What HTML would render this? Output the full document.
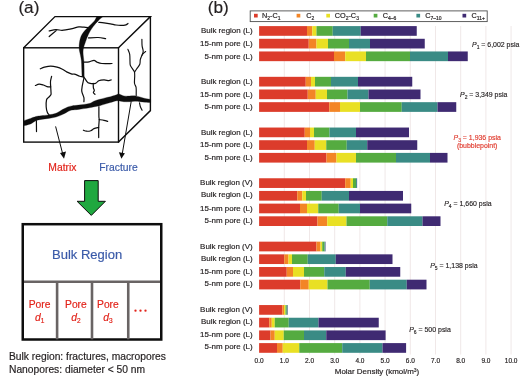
<!DOCTYPE html>
<html><head><meta charset="utf-8"><title>Figure</title>
<style>
html,body{margin:0;padding:0;background:#fff;}
body{width:520px;height:378px;overflow:hidden;}
svg{display:block;}
text{font-family:"Liberation Sans",sans-serif;fill:#231f20;stroke:#231f20;stroke-width:0.18px;}
.red{stroke:#e2231a;}.blue{stroke:#3b5ba9;}
.lab{font-size:7.95px;text-anchor:end;}
.tick{font-size:6.5px;text-anchor:middle;}
.leg{font-size:7.3px;}
.p{font-size:6.95px;stroke-width:0.15px;}
.pr{fill:#e0392c;stroke:#e0392c;}
.red{fill:#e2231a;}
.blue{fill:#3b5ba9;}
.it{font-style:italic;}
</style></head><body>
<svg width="520" height="378" viewBox="0 0 520 378">
<rect width="520" height="378" fill="#fff"/>

<g stroke="#eee5e5" stroke-width="0.9">
<line x1="284.30" y1="26" x2="284.30" y2="354.5"/>
<line x1="309.50" y1="26" x2="309.50" y2="354.5"/>
<line x1="334.70" y1="26" x2="334.70" y2="354.5"/>
<line x1="359.90" y1="26" x2="359.90" y2="354.5"/>
<line x1="385.10" y1="26" x2="385.10" y2="354.5"/>
<line x1="410.30" y1="26" x2="410.30" y2="354.5"/>
<line x1="435.50" y1="26" x2="435.50" y2="354.5"/>
<line x1="460.70" y1="26" x2="460.70" y2="354.5"/>
<line x1="485.90" y1="26" x2="485.90" y2="354.5"/>
<line x1="511.10" y1="26" x2="511.10" y2="354.5"/>
</g>
<g shape-rendering="auto">
<rect x="259.10" y="26.10" width="47.90" height="9.7" fill="#dc3c2b"/>
<rect x="307.00" y="26.10" width="5.25" height="9.7" fill="#f38526"/>
<rect x="312.25" y="26.10" width="4.25" height="9.7" fill="#e9e024"/>
<rect x="316.50" y="26.10" width="16.25" height="9.7" fill="#55ab40"/>
<rect x="332.75" y="26.10" width="28.00" height="9.7" fill="#3a8b85"/>
<rect x="360.75" y="26.10" width="56.00" height="9.7" fill="#3f2a72"/>
<rect x="259.10" y="38.78" width="49.65" height="9.7" fill="#dc3c2b"/>
<rect x="308.75" y="38.78" width="7.75" height="9.7" fill="#f38526"/>
<rect x="316.50" y="38.78" width="11.50" height="9.7" fill="#e9e024"/>
<rect x="328.00" y="38.78" width="21.00" height="9.7" fill="#55ab40"/>
<rect x="349.00" y="38.78" width="21.00" height="9.7" fill="#3a8b85"/>
<rect x="370.00" y="38.78" width="54.75" height="9.7" fill="#3f2a72"/>
<rect x="259.10" y="51.46" width="74.90" height="9.7" fill="#dc3c2b"/>
<rect x="334.00" y="51.46" width="11.25" height="9.7" fill="#f38526"/>
<rect x="345.25" y="51.46" width="20.75" height="9.7" fill="#e9e024"/>
<rect x="366.00" y="51.46" width="44.00" height="9.7" fill="#55ab40"/>
<rect x="410.00" y="51.46" width="38.00" height="9.7" fill="#3a8b85"/>
<rect x="448.00" y="51.46" width="19.75" height="9.7" fill="#3f2a72"/>
<rect x="259.10" y="76.82" width="46.65" height="9.7" fill="#dc3c2b"/>
<rect x="305.75" y="76.82" width="5.25" height="9.7" fill="#f38526"/>
<rect x="311.00" y="76.82" width="4.00" height="9.7" fill="#e9e024"/>
<rect x="315.00" y="76.82" width="16.00" height="9.7" fill="#55ab40"/>
<rect x="331.00" y="76.82" width="27.00" height="9.7" fill="#3a8b85"/>
<rect x="358.00" y="76.82" width="54.25" height="9.7" fill="#3f2a72"/>
<rect x="259.10" y="89.50" width="48.65" height="9.7" fill="#dc3c2b"/>
<rect x="307.75" y="89.50" width="8.00" height="9.7" fill="#f38526"/>
<rect x="315.75" y="89.50" width="11.25" height="9.7" fill="#e9e024"/>
<rect x="327.00" y="89.50" width="20.50" height="9.7" fill="#55ab40"/>
<rect x="347.50" y="89.50" width="21.00" height="9.7" fill="#3a8b85"/>
<rect x="368.50" y="89.50" width="52.00" height="9.7" fill="#3f2a72"/>
<rect x="259.10" y="102.18" width="70.15" height="9.7" fill="#dc3c2b"/>
<rect x="329.25" y="102.18" width="10.75" height="9.7" fill="#f38526"/>
<rect x="340.00" y="102.18" width="20.00" height="9.7" fill="#e9e024"/>
<rect x="360.00" y="102.18" width="41.75" height="9.7" fill="#55ab40"/>
<rect x="401.75" y="102.18" width="35.75" height="9.7" fill="#3a8b85"/>
<rect x="437.50" y="102.18" width="18.75" height="9.7" fill="#3f2a72"/>
<rect x="259.10" y="127.54" width="45.65" height="9.7" fill="#dc3c2b"/>
<rect x="304.75" y="127.54" width="5.25" height="9.7" fill="#f38526"/>
<rect x="310.00" y="127.54" width="4.00" height="9.7" fill="#e9e024"/>
<rect x="314.00" y="127.54" width="15.50" height="9.7" fill="#55ab40"/>
<rect x="329.50" y="127.54" width="26.50" height="9.7" fill="#3a8b85"/>
<rect x="356.00" y="127.54" width="53.00" height="9.7" fill="#3f2a72"/>
<rect x="259.10" y="140.22" width="47.90" height="9.7" fill="#dc3c2b"/>
<rect x="307.00" y="140.22" width="7.75" height="9.7" fill="#f38526"/>
<rect x="314.75" y="140.22" width="11.50" height="9.7" fill="#e9e024"/>
<rect x="326.25" y="140.22" width="20.50" height="9.7" fill="#55ab40"/>
<rect x="346.75" y="140.22" width="20.50" height="9.7" fill="#3a8b85"/>
<rect x="367.25" y="140.22" width="50.00" height="9.7" fill="#3f2a72"/>
<rect x="259.10" y="152.90" width="67.40" height="9.7" fill="#dc3c2b"/>
<rect x="326.50" y="152.90" width="10.00" height="9.7" fill="#f38526"/>
<rect x="336.50" y="152.90" width="19.50" height="9.7" fill="#e9e024"/>
<rect x="356.00" y="152.90" width="40.00" height="9.7" fill="#55ab40"/>
<rect x="396.00" y="152.90" width="34.00" height="9.7" fill="#3a8b85"/>
<rect x="430.00" y="152.90" width="17.50" height="9.7" fill="#3f2a72"/>
<rect x="259.10" y="178.26" width="86.10" height="9.7" fill="#dc3c2b"/>
<rect x="345.20" y="178.26" width="5.50" height="9.7" fill="#f38526"/>
<rect x="350.70" y="178.26" width="2.30" height="9.7" fill="#e9e024"/>
<rect x="353.00" y="178.26" width="3.00" height="9.7" fill="#55ab40"/>
<rect x="356.00" y="178.26" width="0.90" height="9.7" fill="#3a8b85"/>
<rect x="356.90" y="178.26" width="0.20" height="9.7" fill="#3f2a72"/>
<rect x="259.10" y="190.94" width="38.15" height="9.7" fill="#dc3c2b"/>
<rect x="297.25" y="190.94" width="5.00" height="9.7" fill="#f38526"/>
<rect x="302.25" y="190.94" width="3.75" height="9.7" fill="#e9e024"/>
<rect x="306.00" y="190.94" width="15.75" height="9.7" fill="#55ab40"/>
<rect x="321.75" y="190.94" width="27.25" height="9.7" fill="#3a8b85"/>
<rect x="349.00" y="190.94" width="54.00" height="9.7" fill="#3f2a72"/>
<rect x="259.10" y="203.62" width="40.90" height="9.7" fill="#dc3c2b"/>
<rect x="300.00" y="203.62" width="7.00" height="9.7" fill="#f38526"/>
<rect x="307.00" y="203.62" width="11.25" height="9.7" fill="#e9e024"/>
<rect x="318.25" y="203.62" width="20.50" height="9.7" fill="#55ab40"/>
<rect x="338.75" y="203.62" width="21.25" height="9.7" fill="#3a8b85"/>
<rect x="360.00" y="203.62" width="51.25" height="9.7" fill="#3f2a72"/>
<rect x="259.10" y="216.30" width="58.40" height="9.7" fill="#dc3c2b"/>
<rect x="317.50" y="216.30" width="9.75" height="9.7" fill="#f38526"/>
<rect x="327.25" y="216.30" width="19.25" height="9.7" fill="#e9e024"/>
<rect x="346.50" y="216.30" width="40.75" height="9.7" fill="#55ab40"/>
<rect x="387.25" y="216.30" width="35.25" height="9.7" fill="#3a8b85"/>
<rect x="422.50" y="216.30" width="18.00" height="9.7" fill="#3f2a72"/>
<rect x="259.10" y="241.66" width="57.40" height="9.7" fill="#dc3c2b"/>
<rect x="316.50" y="241.66" width="4.00" height="9.7" fill="#f38526"/>
<rect x="320.50" y="241.66" width="1.75" height="9.7" fill="#e9e024"/>
<rect x="322.25" y="241.66" width="2.25" height="9.7" fill="#55ab40"/>
<rect x="324.50" y="241.66" width="0.80" height="9.7" fill="#3a8b85"/>
<rect x="325.30" y="241.66" width="0.30" height="9.7" fill="#3f2a72"/>
<rect x="259.10" y="254.34" width="25.15" height="9.7" fill="#dc3c2b"/>
<rect x="284.25" y="254.34" width="4.25" height="9.7" fill="#f38526"/>
<rect x="288.50" y="254.34" width="3.50" height="9.7" fill="#e9e024"/>
<rect x="292.00" y="254.34" width="15.75" height="9.7" fill="#55ab40"/>
<rect x="307.75" y="254.34" width="28.00" height="9.7" fill="#3a8b85"/>
<rect x="335.75" y="254.34" width="56.75" height="9.7" fill="#3f2a72"/>
<rect x="259.10" y="267.02" width="27.65" height="9.7" fill="#dc3c2b"/>
<rect x="286.75" y="267.02" width="6.25" height="9.7" fill="#f38526"/>
<rect x="293.00" y="267.02" width="11.00" height="9.7" fill="#e9e024"/>
<rect x="304.00" y="267.02" width="20.25" height="9.7" fill="#55ab40"/>
<rect x="324.25" y="267.02" width="21.50" height="9.7" fill="#3a8b85"/>
<rect x="345.75" y="267.02" width="54.50" height="9.7" fill="#3f2a72"/>
<rect x="259.10" y="279.70" width="41.15" height="9.7" fill="#dc3c2b"/>
<rect x="300.25" y="279.70" width="8.50" height="9.7" fill="#f38526"/>
<rect x="308.75" y="279.70" width="18.75" height="9.7" fill="#e9e024"/>
<rect x="327.50" y="279.70" width="42.25" height="9.7" fill="#55ab40"/>
<rect x="369.75" y="279.70" width="37.00" height="9.7" fill="#3a8b85"/>
<rect x="406.75" y="279.70" width="19.75" height="9.7" fill="#3f2a72"/>
<rect x="259.10" y="305.06" width="23.15" height="9.7" fill="#dc3c2b"/>
<rect x="282.25" y="305.06" width="1.75" height="9.7" fill="#f38526"/>
<rect x="284.00" y="305.06" width="1.50" height="9.7" fill="#e9e024"/>
<rect x="285.50" y="305.06" width="1.25" height="9.7" fill="#55ab40"/>
<rect x="286.75" y="305.06" width="0.75" height="9.7" fill="#3a8b85"/>
<rect x="287.50" y="305.06" width="0.30" height="9.7" fill="#3f2a72"/>
<rect x="259.10" y="317.74" width="10.15" height="9.7" fill="#dc3c2b"/>
<rect x="269.25" y="317.74" width="2.50" height="9.7" fill="#f38526"/>
<rect x="271.75" y="317.74" width="3.00" height="9.7" fill="#e9e024"/>
<rect x="274.75" y="317.74" width="14.00" height="9.7" fill="#55ab40"/>
<rect x="288.75" y="317.74" width="29.75" height="9.7" fill="#3a8b85"/>
<rect x="318.50" y="317.74" width="60.25" height="9.7" fill="#3f2a72"/>
<rect x="259.10" y="330.42" width="11.40" height="9.7" fill="#dc3c2b"/>
<rect x="270.50" y="330.42" width="4.25" height="9.7" fill="#f38526"/>
<rect x="274.75" y="330.42" width="9.00" height="9.7" fill="#e9e024"/>
<rect x="283.75" y="330.42" width="20.25" height="9.7" fill="#55ab40"/>
<rect x="304.00" y="330.42" width="22.25" height="9.7" fill="#3a8b85"/>
<rect x="326.25" y="330.42" width="59.35" height="9.7" fill="#3f2a72"/>
<rect x="259.10" y="343.10" width="17.90" height="9.7" fill="#dc3c2b"/>
<rect x="277.00" y="343.10" width="5.75" height="9.7" fill="#f38526"/>
<rect x="282.75" y="343.10" width="16.50" height="9.7" fill="#e9e024"/>
<rect x="299.25" y="343.10" width="43.00" height="9.7" fill="#55ab40"/>
<rect x="342.25" y="343.10" width="40.25" height="9.7" fill="#3a8b85"/>
<rect x="382.50" y="343.10" width="23.60" height="9.7" fill="#3f2a72"/>
</g>
<text class="lab" x="252.6" y="33.15">Bulk region (L)</text>
<text class="lab" x="252.6" y="45.83">15-nm pore (L)</text>
<text class="lab" x="252.6" y="58.51">5-nm pore (L)</text>
<text class="lab" x="252.6" y="83.87">Bulk region (L)</text>
<text class="lab" x="252.6" y="96.55">15-nm pore (L)</text>
<text class="lab" x="252.6" y="109.23">5-nm pore (L)</text>
<text class="lab" x="252.6" y="134.59">Bulk region (L)</text>
<text class="lab" x="252.6" y="147.27">15-nm pore (L)</text>
<text class="lab" x="252.6" y="159.95">5-nm pore (L)</text>
<text class="lab" x="252.6" y="185.31">Bulk region (V)</text>
<text class="lab" x="252.6" y="197.29">Bulk region (L)</text>
<text class="lab" x="252.6" y="210.67">15-nm pore (L)</text>
<text class="lab" x="252.6" y="222.55">5-nm pore (L)</text>
<text class="lab" x="252.6" y="248.71">Bulk region (V)</text>
<text class="lab" x="252.6" y="260.69">Bulk region (L)</text>
<text class="lab" x="252.6" y="274.07">15-nm pore (L)</text>
<text class="lab" x="252.6" y="285.95">5-nm pore (L)</text>
<text class="lab" x="252.6" y="312.11">Bulk region (V)</text>
<text class="lab" x="252.6" y="324.39">Bulk region (L)</text>
<text class="lab" x="252.6" y="337.47">15-nm pore (L)</text>
<text class="lab" x="252.6" y="349.45">5-nm pore (L)</text>
<text class="tick" x="259.10" y="363.4">0.0</text>
<text class="tick" x="284.30" y="363.4">1.0</text>
<text class="tick" x="309.50" y="363.4">2.0</text>
<text class="tick" x="334.70" y="363.4">3.0</text>
<text class="tick" x="359.90" y="363.4">4.0</text>
<text class="tick" x="385.10" y="363.4">5.0</text>
<text class="tick" x="410.30" y="363.4">6.0</text>
<text class="tick" x="435.50" y="363.4">7.0</text>
<text class="tick" x="460.70" y="363.4">8.0</text>
<text class="tick" x="485.90" y="363.4">9.0</text>
<text class="tick" x="511.10" y="363.4">10.0</text>
<text x="377" y="374.2" style="font-size:7.95px;text-anchor:middle">Molar Density (kmol/m<tspan dy="-2.6" style="font-size:5px">3</tspan><tspan dy="2.6">)</tspan></text>
<rect x="250.2" y="10.9" width="237" height="10.7" fill="#fff" stroke="#4d4d4d" stroke-width="0.9"/>
<rect x="254" y="13.8" width="3.7" height="3.7" fill="#dc3c2b"/>
<text class="leg" x="262" y="18.0">N<tspan dy="1.9" style="font-size:5px">2</tspan><tspan dy="-1.9">-C</tspan><tspan dy="1.9" style="font-size:5px">1</tspan></text>
<rect x="296.6" y="13.8" width="3.7" height="3.7" fill="#f38526"/>
<text class="leg" x="306.2" y="18.0">C<tspan dy="1.9" style="font-size:5px">2</tspan></text>
<rect x="326.3" y="13.8" width="3.7" height="3.7" fill="#e9e024"/>
<text class="leg" x="334.7" y="18.0">CO<tspan dy="1.9" style="font-size:5px">2</tspan><tspan dy="-1.9">-C</tspan><tspan dy="1.9" style="font-size:5px">3</tspan></text>
<rect x="373.7" y="13.8" width="3.7" height="3.7" fill="#55ab40"/>
<text class="leg" x="382.7" y="18.0">C<tspan dy="1.9" style="font-size:5px">4–6</tspan></text>
<rect x="416.4" y="13.8" width="3.7" height="3.7" fill="#3a8b85"/>
<text class="leg" x="425.2" y="18.0">C<tspan dy="1.9" style="font-size:5px">7–10</tspan></text>
<rect x="462.5" y="13.8" width="3.7" height="3.7" fill="#3f2a72"/>
<text class="leg" x="471.5" y="18.0">C<tspan dy="1.9" style="font-size:5px">11+</tspan></text>
<text class="p" x="472" y="47" text-anchor="start"><tspan class="it">P</tspan><tspan dy="1.9" style="font-size:5px">1</tspan><tspan dy="-1.9"> = 6,002 psia</tspan></text>
<text class="p" x="460" y="97" text-anchor="start"><tspan class="it">P</tspan><tspan dy="1.9" style="font-size:5px">2</tspan><tspan dy="-1.9"> = 3,349 psia</tspan></text>
<g class="red">
<text class="p pr" x="477.2" y="139.8" text-anchor="middle"><tspan class="it">P</tspan><tspan dy="1.9" style="font-size:5px">3</tspan><tspan dy="-1.9"> = 1,936 psia</tspan></text>
<text class="p pr" x="477.2" y="148.2" text-anchor="middle">(bubblepoint)</text>
</g>
<text class="p" x="444.2" y="206.0" text-anchor="start"><tspan class="it">P</tspan><tspan dy="1.9" style="font-size:5px">4</tspan><tspan dy="-1.9"> = 1,660 psia</tspan></text>
<text class="p" x="430.2" y="268.4" text-anchor="start"><tspan class="it">P</tspan><tspan dy="1.9" style="font-size:5px">5</tspan><tspan dy="-1.9"> = 1,138 psia</tspan></text>
<text class="p" x="409.2" y="332.3" text-anchor="start"><tspan class="it">P</tspan><tspan dy="1.9" style="font-size:5px">6</tspan><tspan dy="-1.9"> = 500 psia</tspan></text>
<text x="18.4" y="12.8" style="font-size:17.2px">(a)</text>
<text x="207.8" y="12.8" style="font-size:17.2px">(b)</text>
<g fill="none" stroke="#0d0d0d" stroke-width="1.4" stroke-linejoin="miter" stroke-linecap="round">
<rect x="23.7" y="47.8" width="94.8" height="94.3"/>
<path d="M23.7 47.8 L55 16.6 L150.4 16.6 L118.5 47.8"/>
<path d="M150.4 16.6 L150.4 110.6 L118.5 142.1"/>
</g>
<g fill="#0d0d0d" stroke="#0d0d0d" stroke-width="0.3" stroke-linejoin="round">
<path d="M23.5 120.7 C24.68 120.32 28.53 119.10 30.60 118.40 C32.67 117.70 34.13 116.95 35.90 116.50 C37.67 116.05 39.08 115.97 41.20 115.70 C43.32 115.43 46.13 115.30 48.60 114.90 C51.07 114.50 53.70 114.18 56.00 113.30 C58.30 112.42 60.45 110.65 62.40 109.60 C64.35 108.55 66.12 107.62 67.70 107.00 C69.28 106.38 70.08 106.22 71.90 105.90 C73.72 105.58 75.72 105.50 78.60 105.10 C81.48 104.70 86.55 104.20 89.20 103.50 C91.85 102.80 92.73 101.60 94.50 100.90 C96.27 100.20 98.03 99.80 99.80 99.30 C101.57 98.80 103.33 98.33 105.10 97.90 C106.87 97.47 108.63 97.17 110.40 96.70 C112.17 96.23 114.33 95.58 115.70 95.10 C117.07 94.62 118.12 94.02 118.60 93.80 C119.48 94.15 122.13 95.52 123.90 95.90 C125.67 96.28 127.27 96.10 129.20 96.10 C131.13 96.10 133.73 95.77 135.50 95.90 C137.27 96.03 138.20 96.47 139.80 96.90 C141.40 97.33 143.30 98.10 145.10 98.50 C146.90 98.90 149.68 99.17 150.60 99.30 L150.6 102.5 C149.68 102.45 146.90 102.33 145.10 102.20 C143.30 102.07 141.40 101.87 139.80 101.70 C138.20 101.53 137.27 101.20 135.50 101.20 C133.73 101.20 131.13 101.62 129.20 101.70 C127.27 101.78 125.67 101.87 123.90 101.70 C122.13 101.53 119.48 100.87 118.60 100.70 C118.12 100.73 117.07 100.60 115.70 100.90 C114.33 101.20 112.17 101.97 110.40 102.50 C108.63 103.03 106.87 103.57 105.10 104.10 C103.33 104.63 101.57 105.27 99.80 105.70 C98.03 106.13 96.27 106.35 94.50 106.70 C92.73 107.05 91.85 107.35 89.20 107.80 C86.55 108.25 81.48 109.02 78.60 109.40 C75.72 109.78 73.72 109.72 71.90 110.10 C70.08 110.48 69.28 110.95 67.70 111.70 C66.12 112.45 64.35 113.72 62.40 114.60 C60.45 115.48 58.30 116.37 56.00 117.00 C53.70 117.63 51.07 118.00 48.60 118.40 C46.13 118.80 43.32 119.02 41.20 119.40 C39.08 119.78 37.67 119.95 35.90 120.70 C34.13 121.45 32.67 123.05 30.60 123.90 C28.53 124.75 24.68 125.48 23.50 125.80 Z"/>
<path d="M96.7 16.6 C96.32 17.32 95.77 19.20 94.40 20.90 C93.03 22.60 90.55 24.58 88.50 26.80 C86.45 29.02 83.58 31.73 82.10 34.20 C80.62 36.67 80.08 39.13 79.60 41.60 C79.12 44.07 79.07 46.77 79.20 49.00 C79.33 51.23 80.03 53.02 80.40 55.00 C80.77 56.98 81.18 58.73 81.40 60.90 C81.62 63.07 81.60 65.40 81.70 68.00 C81.80 70.60 81.95 75.08 82.00 76.50 L84.2 76.5 C84.18 75.08 84.15 70.60 84.10 68.00 C84.05 65.40 84.05 63.07 83.90 60.90 C83.75 58.73 83.30 56.98 83.20 55.00 C83.10 53.02 82.90 51.23 83.30 49.00 C83.70 46.77 84.73 44.07 85.60 41.60 C86.47 39.13 87.27 36.67 88.50 34.20 C89.73 31.73 91.40 29.02 93.00 26.80 C94.60 24.58 96.45 22.60 98.10 20.90 C99.75 19.20 102.10 17.32 102.90 16.60 Z"/>
</g>
<g fill="none" stroke="#0d0d0d" stroke-width="1.2" stroke-linecap="round" stroke-linejoin="round">
<path d="M49.20 30.80 C50.33 30.62 53.87 29.78 56.00 29.70 C58.13 29.62 60.17 30.32 62.00 30.30 C63.83 30.28 65.28 29.88 67.00 29.60 C68.72 29.32 70.32 29.05 72.30 28.60 C74.28 28.15 76.95 27.13 78.90 26.90 C80.85 26.67 82.40 27.08 84.00 27.20 C85.60 27.32 87.75 27.53 88.50 27.60"/>
<path d="M49.20 36.50 C50.37 35.52 55.03 31.58 56.20 30.60"/>
<path d="M98.80 22.30 C99.67 22.38 102.07 22.55 104.00 22.80 C105.93 23.05 108.40 23.43 110.40 23.80 C112.40 24.17 114.23 24.73 116.00 25.00 C117.77 25.27 119.33 25.43 121.00 25.40 C122.67 25.37 124.83 25.12 126.00 24.80 C127.17 24.48 127.67 23.72 128.00 23.50"/>
<path d="M88.50 37.90 C90.10 37.83 95.25 37.37 98.10 37.50 C100.95 37.63 104.35 38.50 105.60 38.70"/>
<path d="M83.90 62.20 C84.78 62.15 87.52 62.22 89.20 61.90 C90.88 61.58 92.68 60.25 94.00 60.30 C95.32 60.35 95.78 61.67 97.10 62.20 C98.42 62.73 99.42 63.28 101.90 63.50 C104.38 63.72 110.32 63.50 112.00 63.50"/>
<path d="M40.30 68.80 C40.98 68.53 42.67 67.65 44.40 67.20 C46.13 66.75 48.58 66.10 50.70 66.10 C52.82 66.10 55.15 66.67 57.10 67.20 C59.05 67.73 60.82 68.52 62.40 69.30 C63.98 70.08 65.02 71.10 66.60 71.90 C68.18 72.70 70.60 73.73 71.90 74.10 C73.20 74.47 73.10 73.75 74.40 74.10 C75.70 74.45 78.12 75.68 79.70 76.20 C81.28 76.72 82.77 76.40 83.90 77.20 C85.03 78.00 85.62 80.02 86.50 81.00 C87.38 81.98 87.70 82.70 89.20 83.10 C90.70 83.50 93.92 83.80 95.50 83.40 C97.08 83.00 97.28 81.28 98.70 80.70 C100.12 80.12 102.32 79.92 104.00 79.90 C105.68 79.88 107.60 80.60 108.80 80.60 C110.00 80.60 110.80 80.02 111.20 79.90"/>
<path d="M83.10 76.20 C83.23 76.47 84.03 76.22 83.90 77.80 C83.77 79.38 82.65 83.43 82.30 85.70 C81.95 87.97 81.53 89.40 81.80 91.40 C82.07 93.40 83.55 95.98 83.90 97.70 C84.25 99.42 83.90 101.03 83.90 101.70"/>
<path d="M93.20 83.40 C93.23 84.13 93.22 86.62 93.40 87.80 C93.58 88.98 94.30 89.70 94.30 90.50 C94.30 91.30 93.28 91.97 93.40 92.60 C93.52 93.23 94.73 94.02 95.00 94.30"/>
<path d="M51.60 76.40 C51.42 77.25 50.65 79.77 50.50 81.50 C50.35 83.23 50.62 85.05 50.70 86.80 C50.78 88.55 50.97 90.67 51.00 92.00 C51.03 93.33 51.30 93.90 50.90 94.80 C50.50 95.70 49.33 96.53 48.60 97.40 C47.87 98.27 46.90 98.40 46.50 100.00 C46.10 101.60 46.07 104.97 46.20 107.00 C46.33 109.03 46.82 110.88 47.30 112.20 C47.78 113.52 48.80 114.45 49.10 114.90"/>
<path d="M35.40 85.50 C36.02 85.27 37.78 84.18 39.10 84.10 C40.42 84.02 41.98 84.58 43.30 85.00 C44.62 85.42 45.77 86.30 47.00 86.60 C48.23 86.90 50.08 86.77 50.70 86.80"/>
<path d="M36.40 120.50 C36.42 122.35 36.48 129.75 36.50 131.60"/>
<path d="M98.90 106.70 C98.90 108.38 98.85 114.65 98.90 116.80 C98.95 118.95 99.23 117.82 99.20 119.60 C99.17 121.38 98.78 124.50 98.70 127.50 C98.62 130.50 98.70 135.92 98.70 137.60"/>
<path d="M99.20 119.60 C100.00 119.72 102.58 120.00 104.00 120.30 C105.42 120.60 107.08 121.22 107.70 121.40"/>
<path d="M98.70 127.50 C97.92 127.68 95.32 128.07 94.00 128.60 C92.68 129.13 92.05 130.27 90.80 130.70 C89.55 131.13 87.73 131.28 86.50 131.20 C85.27 131.12 83.92 130.37 83.40 130.20"/>
</g>
<g fill="none" stroke="#111" stroke-width="1.15" stroke-linecap="round" stroke-linejoin="round">
<path d="M141.90 39.30 C141.93 40.40 141.88 43.92 142.10 45.90 C142.32 47.88 143.23 49.62 143.20 51.20 C143.17 52.78 142.38 53.98 141.90 55.40 C141.42 56.82 140.65 58.23 140.30 59.70 C139.95 61.17 140.42 62.65 139.80 64.20 C139.18 65.75 137.48 67.67 136.60 69.00 C135.72 70.33 134.85 71.67 134.50 72.20"/>
<path d="M145.60 51.50 C145.20 51.85 143.82 52.95 143.20 53.60 C142.58 54.25 142.12 55.10 141.90 55.40"/>
<path d="M127.90 49.40 C128.20 50.23 129.35 52.33 129.70 54.40 C130.05 56.47 129.88 59.95 130.00 61.80 C130.12 63.65 129.83 64.12 130.40 65.50 C130.97 66.88 132.72 68.98 133.40 70.10 C134.08 71.22 134.28 71.23 134.50 72.20 C134.72 73.17 134.70 74.05 134.70 75.90 C134.70 77.75 134.27 81.37 134.50 83.30 C134.73 85.23 135.82 85.47 136.10 87.50 C136.38 89.53 136.18 94.17 136.20 95.50"/>
<path d="M139.50 102.80 C139.63 103.42 139.87 105.27 140.30 106.50 C140.73 107.73 141.80 109.58 142.10 110.20"/>
</g>
<g stroke="#0d0d0d" stroke-width="1.0" fill="#0d0d0d">
<line x1="55.6" y1="126.4" x2="62.6" y2="153.5"/>
<path d="M64.0 158.8 L60.0 152.9 L66.0 151.4 Z" stroke="none"/>
<line x1="131.2" y1="101.5" x2="122.3" y2="153.5"/>
<path d="M121.4 158.8 L118.9 152.2 L124.9 153.2 Z" stroke="none"/>
</g>
<text class="red" x="48.3" y="170.9" style="font-size:10.35px">Matrix</text>
<text class="blue" x="99.3" y="170.9" style="font-size:10.35px">Fracture</text>
<path d="M84.6 180.6 L98.2 180.6 L98.2 201.3 L105.4 201.3 L91.3 215.4 L77.1 201.3 L84.6 201.3 Z" fill="#1fa83f" stroke="#0d0d0d" stroke-width="1"/>
<rect x="22.75" y="224.2" width="138.5" height="115.3" fill="none" stroke="#0d0d0d" stroke-width="2.5"/>
<g stroke="#696464" stroke-width="2.6">
<line x1="24" y1="281.8" x2="160" y2="281.8"/>
<line x1="57.1" y1="281.8" x2="57.1" y2="339.3"/>
<line x1="92" y1="281.8" x2="92" y2="339.3"/>
<line x1="128.25" y1="281.8" x2="128.25" y2="339.3"/>
</g>
<text class="blue" x="87.1" y="259.4" text-anchor="middle" style="font-size:13px">Bulk Region</text>
<text class="red" x="39.6" y="308.3" text-anchor="middle" style="font-size:10.3px">Pore</text>
<text class="red" x="39.6" y="320.8" text-anchor="middle" style="font-size:10.3px"><tspan class="it">d</tspan><tspan dy="2" style="font-size:6.5px">1</tspan></text>
<text class="red" x="75.9" y="308.3" text-anchor="middle" style="font-size:10.3px">Pore</text>
<text class="red" x="75.9" y="320.8" text-anchor="middle" style="font-size:10.3px"><tspan class="it">d</tspan><tspan dy="2" style="font-size:6.5px">2</tspan></text>
<text class="red" x="107.9" y="308.3" text-anchor="middle" style="font-size:10.3px">Pore</text>
<text class="red" x="107.9" y="320.8" text-anchor="middle" style="font-size:10.3px"><tspan class="it">d</tspan><tspan dy="2" style="font-size:6.5px">3</tspan></text>
<g fill="#e2231a">
<circle cx="135.5" cy="310.7" r="1.15"/>
<circle cx="140.5" cy="310.7" r="1.15"/>
<circle cx="145.5" cy="310.7" r="1.15"/>
</g>
<text x="9.0" y="360.0" style="font-size:10.28px">Bulk region: fractures, macropores</text>
<text x="9.0" y="372.8" style="font-size:10.28px">Nanopores: diameter &lt; 50 nm</text>
</svg></body></html>
